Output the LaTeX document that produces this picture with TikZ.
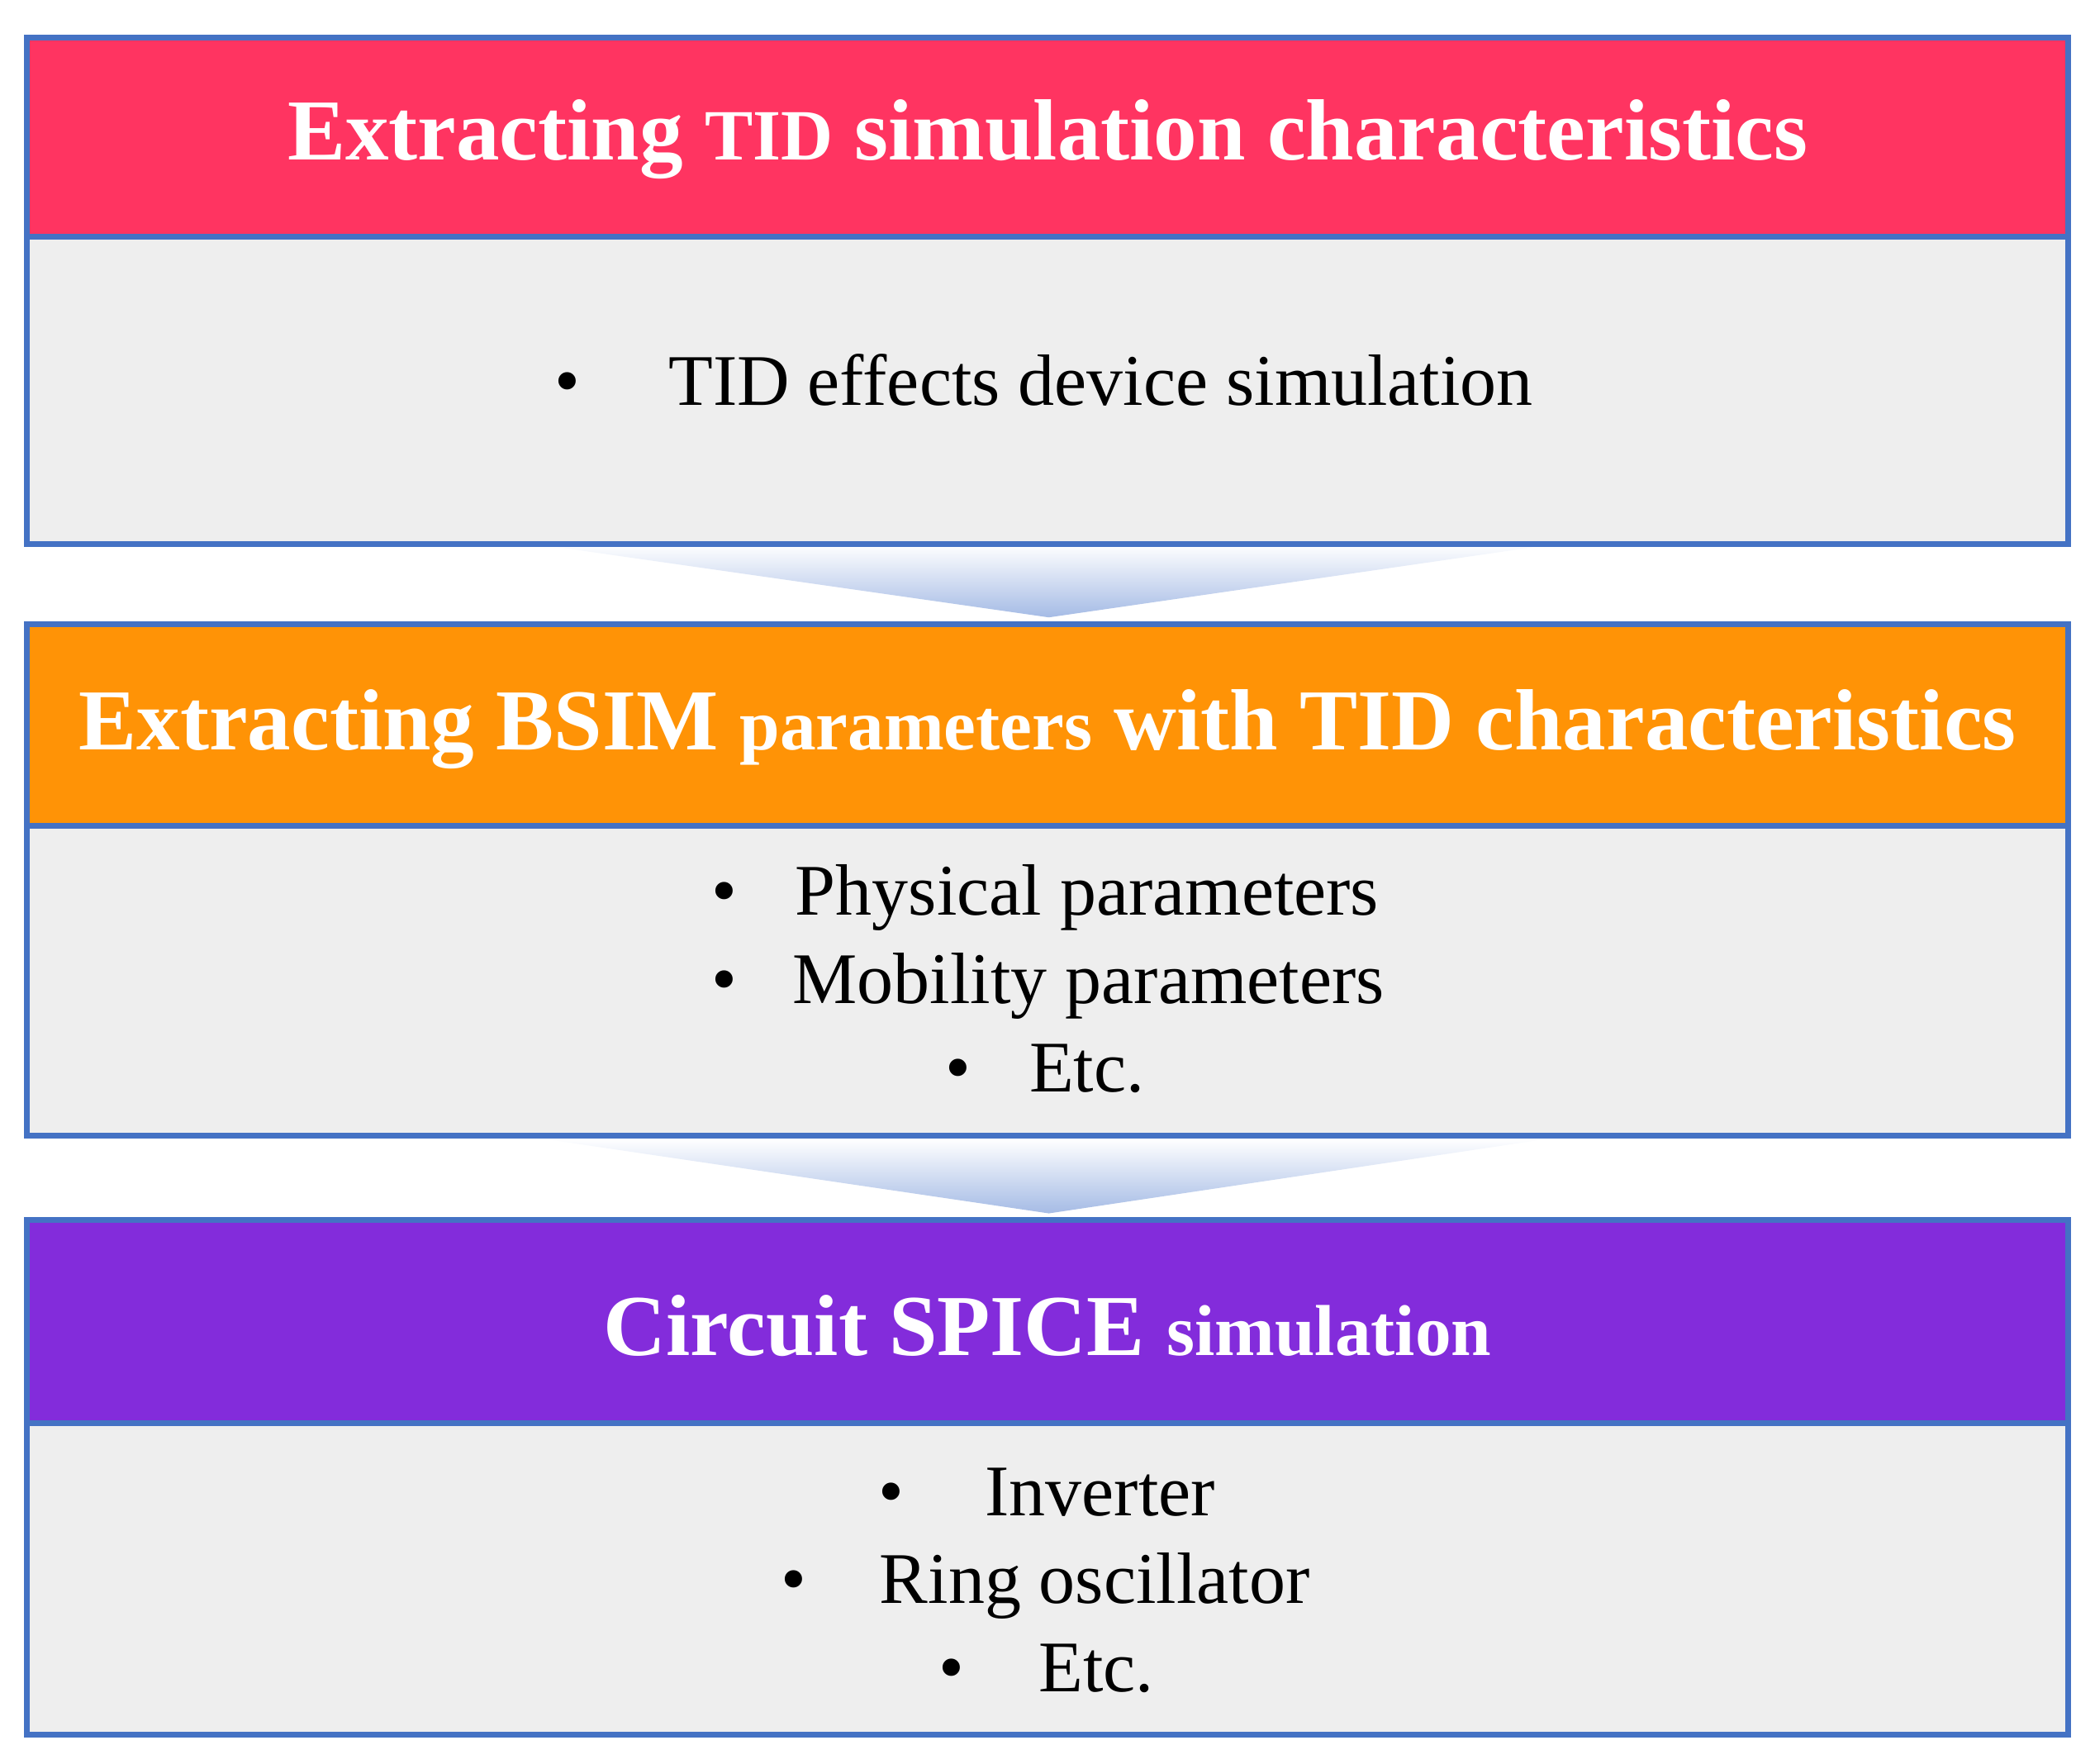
\documentclass[tikz,border=0pt]{standalone}
\usepackage{fontspec}
\setmainfont{Liberation Serif}
\definecolor{cred}{HTML}{FF3461}
\definecolor{corange}{HTML}{FF9306}
\definecolor{cpurple}{HTML}{832CDB}
\definecolor{cgray}{HTML}{EEEEEE}
\definecolor{cborder}{HTML}{4472C4}
\definecolor{carrow}{HTML}{A5BBE5}
\begin{document}
\begin{tikzpicture}[x=0.5pt,y=-0.5pt,
  hdr/.style={draw=cborder,line width=2.2pt},
  bodybox/.style={draw=cborder,line width=2.2pt,fill=cgray},
  ttl/.style={text=white,font=\bfseries\fontsize{32.5}{36}\selectfont,anchor=center},
  bt/.style={font=\fontsize{27.2}{31}\selectfont,anchor=base west,inner sep=0pt},
  bul/.style={font=\fontsize{27.2}{31}\selectfont,anchor=base,inner sep=0pt}]
\useasboundingbox (0,0) rectangle (1568,1320);
% arrows
\shade[top color=white,bottom color=carrow] (400,407) -- (1165,407) -- (785,462) -- cycle;
\shade[top color=white,bottom color=carrow] (405,852) -- (1160,852) -- (785,908) -- cycle;
% box 1
\draw[hdr,fill=cred] (20,28) rectangle (1548,177);
\draw[bodybox] (20,177) rectangle (1548,407);
\node[ttl] (t1) at (784,104) {Extracting {\fontsize{27}{30}\selectfont TID} simulation characteristics};
\node[bul] (b11) at (425,303) {•};
\node[bt] (l11) at (500,303) {TID effects device simulation};
% box 2
\draw[hdr,fill=corange] (20,467) rectangle (1548,618);
\draw[bodybox] (20,618) rectangle (1548,850);
\node[ttl] (t2) at (784,546) {Extracting BSIM {\fontsize{27}{30}\selectfont parameters} with TID characteristics};
\node[bul] (b21) at (542,685) {•};
\node[bt] (l21) at (595,685) {Physical parameters};
\node[bul] (b22) at (542,751) {•};
\node[bt] (l22) at (593,751) {Mobility parameters};
\node[bul] (b23) at (717,817) {•};
\node[bt] (l23) at (770,817) {Etc.};
% box 3
\draw[hdr,fill=cpurple] (20,913) rectangle (1548,1065);
\draw[bodybox] (20,1065) rectangle (1548,1298);
\node[ttl] (t3) at (784,992) {Circuit SPICE {\fontsize{27}{30}\selectfont simulation}};
\node[bul] (b31) at (667,1134) {•};
\node[bt] (l31) at (737,1134) {Inverter};
\node[bul] (b32) at (594,1200) {•};
\node[bt] (l32) at (658,1200) {Ring oscillator};
\node[bul] (b33) at (712,1266) {•};
\node[bt] (l33) at (777,1266) {Etc.};
\end{tikzpicture}
\end{document}
